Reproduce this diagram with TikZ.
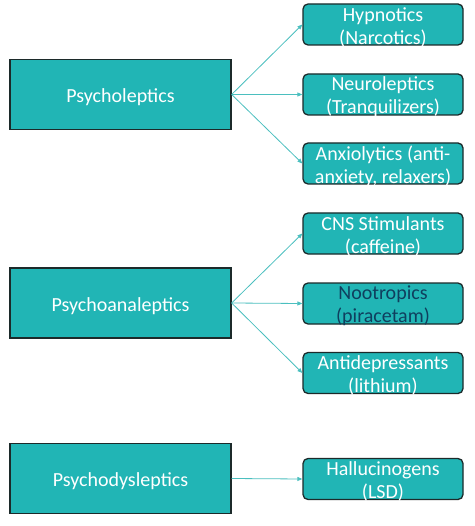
\documentclass[tikz,border=0pt]{standalone}
\usepackage{fontspec}
\setmainfont{Carlito}
\usetikzlibrary{arrows.meta}
\definecolor{boxfill}{HTML}{21B5B5}
\definecolor{boxline}{HTML}{1C2A2A}
\definecolor{linkcol}{HTML}{4BBFBF}
\definecolor{darktext}{HTML}{0F3F5E}
\tikzset{
  mainbox/.style={draw=boxline, line width=1.3pt, fill=boxfill, minimum width=221pt, minimum height=70pt, inner sep=0pt},
  maintext/.style={text=white, font=\fontsize{20}{23}\selectfont},
  subbox/.style={draw=boxline, line width=1.3pt, fill=boxfill, rounded corners=5pt, minimum width=160pt, minimum height=41pt, inner sep=0pt},
  subtext/.style={text=white, font=\fontsize{20}{23}\selectfont, align=center},
  link/.style={draw=linkcol, line width=0.8pt, -{Triangle[length=5pt,width=4pt]}}
}
\begin{document}
\begin{tikzpicture}[x=1pt,y=-1pt]
\useasboundingbox (0,0) rectangle (474,526);
% main boxes
\node[mainbox] (pl) at (120.5,94.5) {};
\node[mainbox] (pa) at (120.5,303) {};
\node[mainbox] (pd) at (120.5,478.5) {};
\node[maintext] at ([yshift=-3pt]pl.center) {Psycholeptics};
\node[maintext] at ([yshift=-3pt]pa.center) {Psychoanaleptics};
\node[maintext] at ([yshift=-3pt]pd.center) {Psychodysleptics};
% sub boxes
\node[subbox] (hy) at (383,24.5) {};
\node[subbox] (ne) at (383,94.5) {};
\node[subbox] (an) at (383,163.5) {};
\node[subbox] (cn) at (383,233.5) {};
\node[subbox] (no) at (383,303.5) {};
\node[subbox] (ad) at (383,373) {};
\node[subbox] (ha) at (383,479) {};
% texts
\node[subtext] at ([yshift=-2.5pt]hy.center) {Hypnotics\\(Narcotics)};
\node[subtext] at ([yshift=-2.5pt]ne.center) {Neuroleptics\\(Tranquilizers)};
\node[subtext] at ([yshift=-2.5pt]an.center) {Anxiolytics (anti-\\anxiety, relaxers)};
\node[subtext] at ([yshift=-2.5pt]cn.center) {CNS Stimulants\\(caffeine)};
\node[subtext, text=darktext] at ([yshift=-2.5pt]no.center) {Nootropics\\(piracetam)};
\node[subtext] at ([yshift=-2.5pt]ad.center) {Antidepressants\\(lithium)};
\node[subtext] at ([yshift=-2.5pt]ha.center) {Hallucinogens\\(LSD)};
% links
\draw[link] (pl.east) -- (hy.west);
\draw[link] (pl.east) -- (ne.west);
\draw[link] (pl.east) -- (an.west);
\draw[link] (pa.east) -- (cn.west);
\draw[link] (pa.east) -- (no.west);
\draw[link] (pa.east) -- (ad.west);
\draw[link] (pd.east) -- (ha.west);
\end{tikzpicture}
\end{document}
